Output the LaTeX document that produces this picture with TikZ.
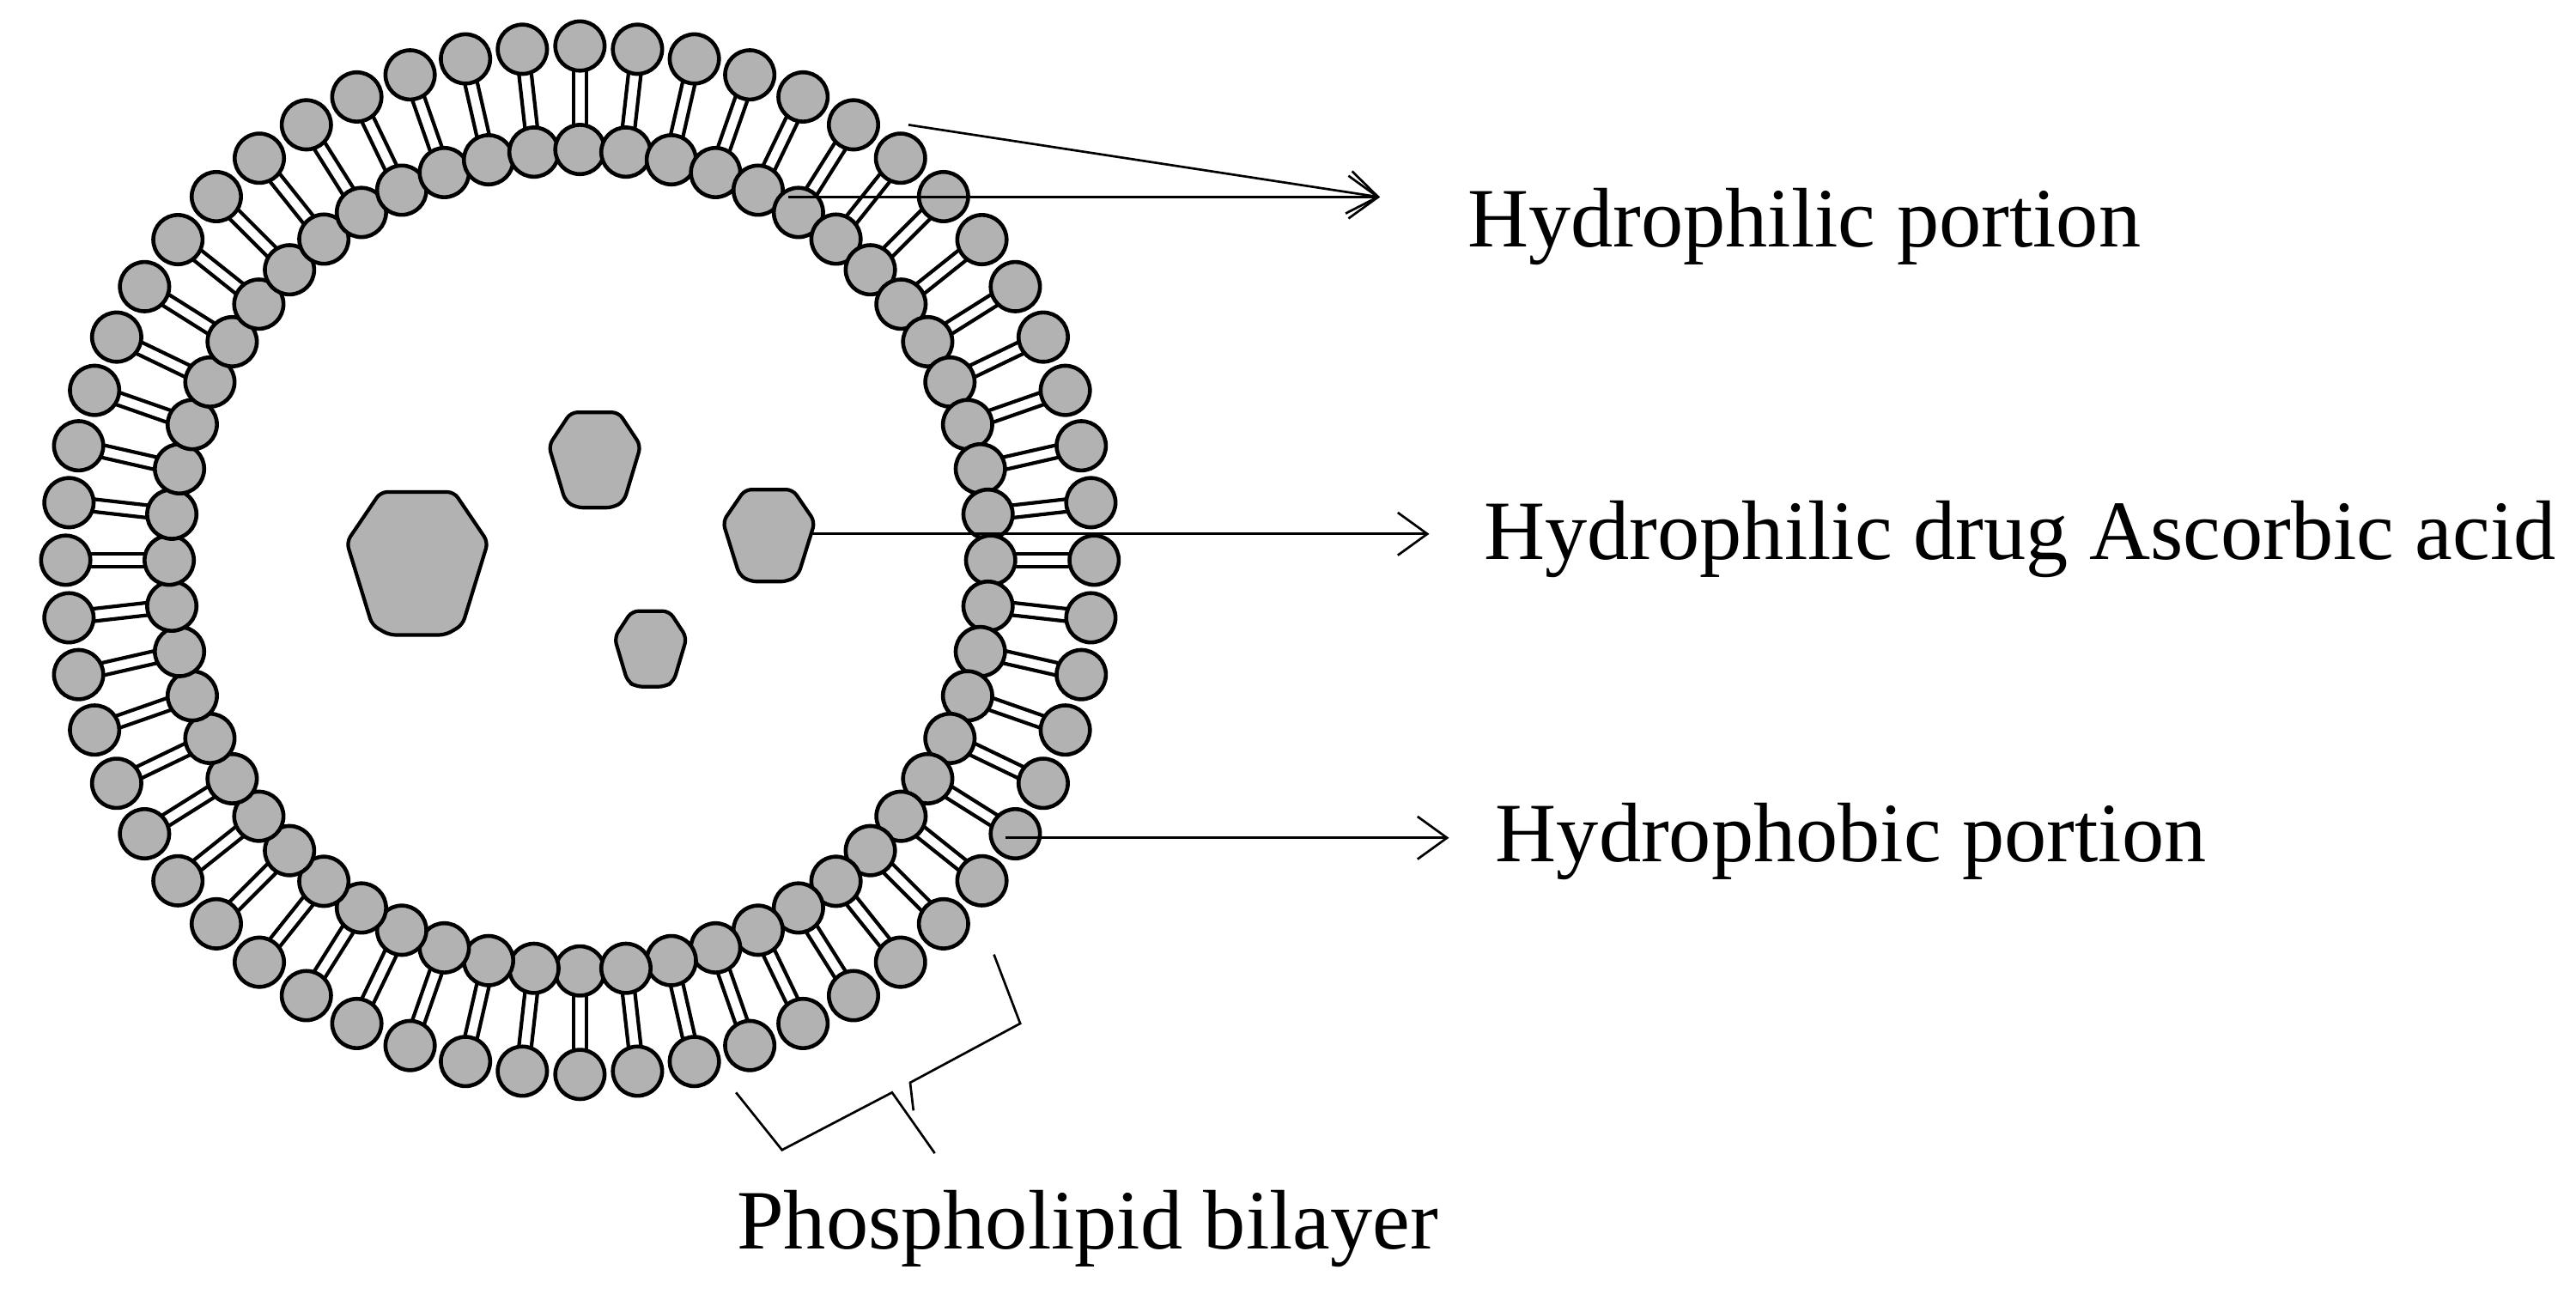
\documentclass[tikz,border=0pt]{standalone}
\usepackage{fontspec}
\setmainfont{Liberation Serif}
\usetikzlibrary{arrows.meta}
\definecolor{headgray}{RGB}{178,178,178}
\begin{document}
\begin{tikzpicture}[x=0.5pt,y=-0.5pt,
  head/.style={circle,draw=black,fill=headgray,line width=1.2pt,minimum size=15pt,inner sep=0pt},
  tail/.style={line width=1.1pt},
  drug/.style={draw=black,fill=headgray,line width=1.1pt,rounded corners=2pt},
  lbl/.style={font=\fontsize{25.7}{30}\selectfont,anchor=west,inner sep=0pt},
  pointer/.style={line width=0.7pt,-{Straight Barb[length=9pt,width=13pt,line width=0.7pt]}}]
\useasboundingbox (0,0) rectangle (1568,791);
\coordinate (ctr) at (353,341);
% tails
\foreach \i in {0,...,55}{
  \pgfmathsetmacro{\a}{90+\i*6.4285714}
  \pgfmathsetmacro{\b}{\a+90}
  \foreach \s in {-3.8,3.8}{
    \draw[tail,shift={(353,341)}] ([shift={(\b:\s)}]\a:264) -- ([shift={(\b:\s)}]\a:299);
  }
}
% heads
\foreach \i in {0,...,55}{
  \pgfmathsetmacro{\a}{90+\i*6.4285714}
  \node[head,shift={(353,341)}] (o\i) at (\a:313) {};
  \node[head,shift={(353,341)}] (n\i) at (\a:250) {};
}
% drugs
\foreach \nm/\x/\y/\w/\h in {dA/254/343/86/87, dB/362/280/56/58, dC/468/326/56/56, dD/396/395/44/46}{
  \draw[drug] ({\x-0.26*\w},{\y-0.5*\h}) -- ({\x+0.26*\w},{\y-0.5*\h}) -- ({\x+0.5*\w},{\y-0.15*\h})
    -- ({\x+0.32*\w},{\y+0.43*\h}) -- ({\x+0.2*\w},{\y+0.5*\h}) -- ({\x-0.2*\w},{\y+0.5*\h})
    -- ({\x-0.32*\w},{\y+0.43*\h}) -- ({\x-0.5*\w},{\y-0.15*\h}) -- cycle;
  \coordinate (\nm) at (\x,\y);
}
% pointers
\coordinate (p1) at (553,76);
\coordinate (p2) at (480,120);
\coordinate (t1) at (840,120);
\coordinate (p3) at (493,325);
\coordinate (t3) at (870,325);
\coordinate (p4) at (612,510);
\coordinate (t4) at (882,510);
\draw[pointer] (p1) -- (t1);
\draw[pointer] (p2) -- (t1);
\draw[pointer] (p3) -- (t3);
\draw[pointer] (p4) -- (t4);
\node[lbl] (L1) at (893,138) {Hydrophilic portion};
\node[lbl] (L2) at (903,328) {Hydrophilic drug Ascorbic acid};
\node[lbl] (L3) at (910,512) {Hydrophobic portion};
% brace
\draw[line width=0.7pt] (448,665) -- (476,700) -- (543,665) -- (569,702);
\draw[line width=0.7pt] (605,581) -- (621,623) -- (554,659) -- (556,676);
\node[lbl,anchor=center] (L4) at (662,748) {Phospholipid bilayer};
\end{tikzpicture}
\end{document}
